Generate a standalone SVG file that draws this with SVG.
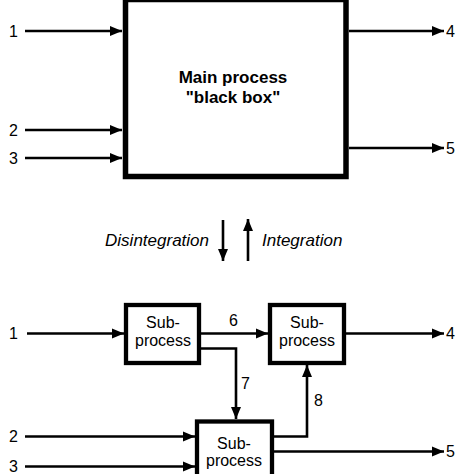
<svg xmlns="http://www.w3.org/2000/svg" width="474" height="474" viewBox="0 0 474 474">
<style>
.box{fill:#fff;stroke:#000}
.ln{fill:none;stroke:#000;stroke-width:2.6}
text{font-family:"Liberation Sans",Arial,sans-serif;fill:#000}
.num{font-size:16px}
.sub{font-size:16px;text-anchor:middle}
</style>
<defs>
<marker id="ah" markerUnits="userSpaceOnUse" markerWidth="12" markerHeight="12" viewBox="0 0 12 12" refX="12" refY="6" orient="auto">
<path d="M0,1 L12,6 L0,11 Z" fill="#000"/>
</marker>
</defs>
<rect width="474" height="474" fill="#fff"/>
<g id="main">
<rect class="box" x="125.5" y="-0.5" width="220.5" height="177" stroke-width="5.5"/>
<text x="233" y="83" font-size="17" font-weight="bold" text-anchor="middle">Main process</text>
<text x="233" y="103" font-size="17" font-weight="bold" text-anchor="middle">"black box"</text>
</g>
<g id="sub1">
<rect class="box" x="126" y="305" width="73" height="58" stroke-width="4.3"/>
<text class="sub" x="163" y="328">Sub-</text>
<text class="sub" x="163" y="346">process</text>
</g>
<g id="sub2">
<rect class="box" x="270" y="305" width="74" height="58" stroke-width="4.3"/>
<text class="sub" x="307" y="328">Sub-</text>
<text class="sub" x="307" y="346">process</text>
</g>
<g id="sub3">
<rect class="box" x="197" y="421.5" width="75" height="60" stroke-width="4.3"/>
<text class="sub" x="234" y="449">Sub-</text>
<text class="sub" x="234" y="466">process</text>
</g>
<g id="connectors">
<line class="ln" x1="25" y1="31" x2="122" y2="31" marker-end="url(#ah)"/>
<line class="ln" x1="25" y1="130" x2="122" y2="130" marker-end="url(#ah)"/>
<line class="ln" x1="25" y1="158" x2="122" y2="158" marker-end="url(#ah)"/>
<line class="ln" x1="349" y1="31" x2="444" y2="31" marker-end="url(#ah)"/>
<line class="ln" x1="349" y1="148" x2="444" y2="148" marker-end="url(#ah)"/>
<line class="ln" x1="223" y1="220" x2="223" y2="261" marker-end="url(#ah)"/>
<line class="ln" x1="248" y1="261" x2="248" y2="219" marker-end="url(#ah)"/>
<line class="ln" x1="27" y1="333.5" x2="124" y2="333.5" marker-end="url(#ah)"/>
<line class="ln" x1="201" y1="333.5" x2="268" y2="333.5" marker-end="url(#ah)"/>
<polyline class="ln" points="201,348.5 236,348.5 236,419" marker-end="url(#ah)"/>
<polyline class="ln" points="274,436.5 307,436.5 307,365" marker-end="url(#ah)"/>
<line class="ln" x1="346" y1="333.5" x2="444" y2="333.5" marker-end="url(#ah)"/>
<line class="ln" x1="25" y1="436.5" x2="195" y2="436.5" marker-end="url(#ah)"/>
<line class="ln" x1="25" y1="466.5" x2="195" y2="466.5" marker-end="url(#ah)"/>
<line class="ln" x1="274" y1="451.5" x2="444" y2="451.5" marker-end="url(#ah)"/>
</g>
<g id="labels">
<text class="num" x="9" y="37">1</text>
<text class="num" x="9" y="136">2</text>
<text class="num" x="9" y="164">3</text>
<text class="num" x="446" y="37">4</text>
<text class="num" x="446" y="154">5</text>
<text x="209" y="246" font-size="17" font-style="italic" text-anchor="end">Disintegration</text>
<text x="262" y="246" font-size="17" font-style="italic">Integration</text>
<text class="num" x="9" y="339">1</text>
<text class="num" x="229" y="326">6</text>
<text class="num" x="241" y="389">7</text>
<text class="num" x="314" y="406">8</text>
<text class="num" x="446" y="339">4</text>
<text class="num" x="9" y="442">2</text>
<text class="num" x="9" y="472">3</text>
<text class="num" x="446" y="457">5</text>
</g>
</svg>
